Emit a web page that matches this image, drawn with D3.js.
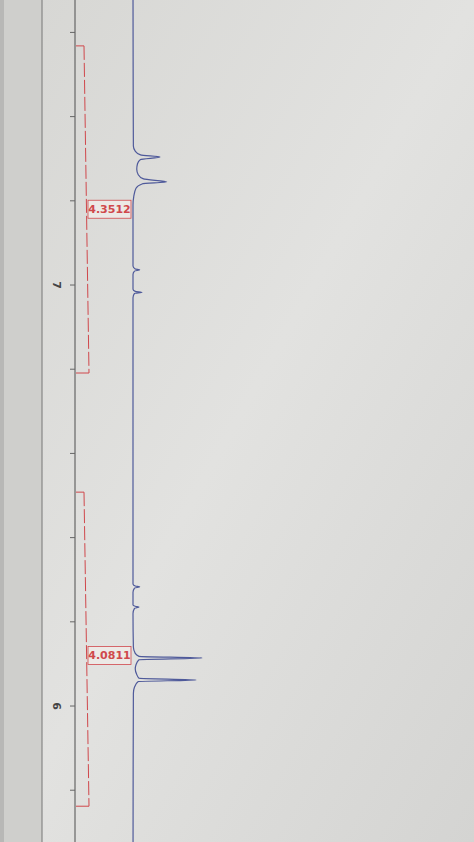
<!DOCTYPE html>
<html><head><meta charset="utf-8">
<script src="https://cdn.jsdelivr.net/npm/d3@7"></script>
<style>body{margin:0;background:#d9d9d6;}svg{display:block;}</style>
</head><body>
<svg id="c" width="474" height="842"></svg>
<script>
// spectrum trace, [ppm, relative intensity]
var trace = [
	[7.70,0],[7.33,0.005],[7.318,0.03],[7.309,0.1],[7.304,0.36],[7.298,0.1],[7.288,0.06],[7.275,0.05],
	[7.262,0.07],[7.252,0.14],[7.245,0.45],[7.24,0.12],[7.23,0.04],[7.21,0.01],[7.19,0],
	[7.045,0],[7.038,0.03],[7.036,0.09],[7.033,0.02],[7.025,0],
	[6.99,0],[6.985,0.03],[6.983,0.12],[6.980,0.02],[6.97,0],
	[6.29,0],[6.285,0.03],[6.283,0.09],[6.280,0.02],[6.27,0],
	[6.24,0],[6.237,0.03],[6.235,0.08],[6.232,0.02],[6.22,0],
	[6.14,0.005],[6.125,0.03],[6.118,0.08],[6.114,0.92],[6.110,0.08],[6.098,0.04],[6.088,0.03],
	[6.075,0.05],[6.066,0.08],[6.062,0.84],[6.058,0.07],[6.045,0.02],[6.03,0.005],[5.60,0]
];
var integrals = [
	{from:7.568, to:6.791, value:"4.3512", at:7.18},
	{from:6.508, to:5.762, value:"4.0811", at:6.12}
];
var majorTicks = [7, 6];
var minorTicks = [7.6,7.4,7.2,7.0,6.8,6.6,6.4,6.2,6.0,5.8];

var svg = d3.select("#c");
var W = 474, H = 842;

// photo-ish background
var defs = svg.append("defs");
var g1 = defs.append("linearGradient").attr("id","bg").attr("x1","0").attr("x2","1").attr("y1","0").attr("y2","1");
g1.append("stop").attr("offset","0").attr("stop-color","#d6d6d3");
g1.append("stop").attr("offset","0.5").attr("stop-color","#e2e2e0");
g1.append("stop").attr("offset","1").attr("stop-color","#d4d4d2");
svg.append("rect").attr("width",W).attr("height",H).attr("fill","url(#bg)");
svg.append("rect").attr("width",42).attr("height",H).attr("fill","#cfcfcc");
svg.append("rect").attr("x",0).attr("width",4).attr("height",H).attr("fill","#b8b8b6");

var y = d3.scaleLinear().domain([7.677, 5.677]).range([0, H]);
var x = d3.scaleLinear().domain([0, 1]).range([133, 208]);

// frame lines
svg.append("line").attr("x1",42).attr("x2",42).attr("y1",0).attr("y2",H).attr("stroke","#777").attr("stroke-width",1);

// axis
var axis = svg.append("g").attr("transform","translate(75,0)");
axis.append("line").attr("y1",0).attr("y2",H).attr("stroke","#666").attr("stroke-width",1.2);
axis.selectAll(".mt").data(minorTicks).enter().append("line")
	.attr("x1",-5).attr("x2",0).attr("y1",function(d){return y(d)}).attr("y2",function(d){return y(d)})
	.attr("stroke","#666");
axis.selectAll(".lab").data(majorTicks).enter().append("text")
	.attr("transform",function(d){return "translate(-18,"+y(d)+") rotate(90)"})
	.attr("text-anchor","middle").attr("dy","0.35em")
	.attr("font-family","DejaVu Sans").attr("font-size",11).attr("font-weight","bold").attr("fill","#444")
	.text(function(d){return d});

// integrals
var red = "#d0484c";
integrals.forEach(function(it){
	var gI = svg.append("g");
	gI.append("line").attr("x1",76).attr("x2",84).attr("y1",y(it.from)).attr("y2",y(it.from)).attr("stroke",red);
	gI.append("line").attr("x1",76).attr("x2",89).attr("y1",y(it.to)).attr("y2",y(it.to)).attr("stroke",red);
	gI.append("line").attr("x1",84).attr("x2",89).attr("y1",y(it.from)).attr("y2",y(it.to))
		.attr("stroke",red).attr("stroke-dasharray","14,3");
	var ly = y(it.at);
	gI.append("rect").attr("x",88).attr("y",ly-9).attr("width",43).attr("height",18)
		.attr("fill","#ece9e6").attr("stroke",red).attr("stroke-width",0.8);
	gI.append("text").attr("x",109.5).attr("y",ly).attr("dy","0.36em").attr("text-anchor","middle")
		.attr("font-family","DejaVu Sans").attr("font-size",11).attr("font-weight","bold").attr("fill",red)
		.text(it.value);
});

// spectrum
var line = d3.line().x(function(d){return x(d[1])}).y(function(d){return y(d[0])}).curve(d3.curveMonotoneY);
svg.append("path").datum(trace).attr("d",line).attr("fill","none").attr("stroke","#4f5a9a").attr("stroke-width",1.2);
</script>
</body></html>
